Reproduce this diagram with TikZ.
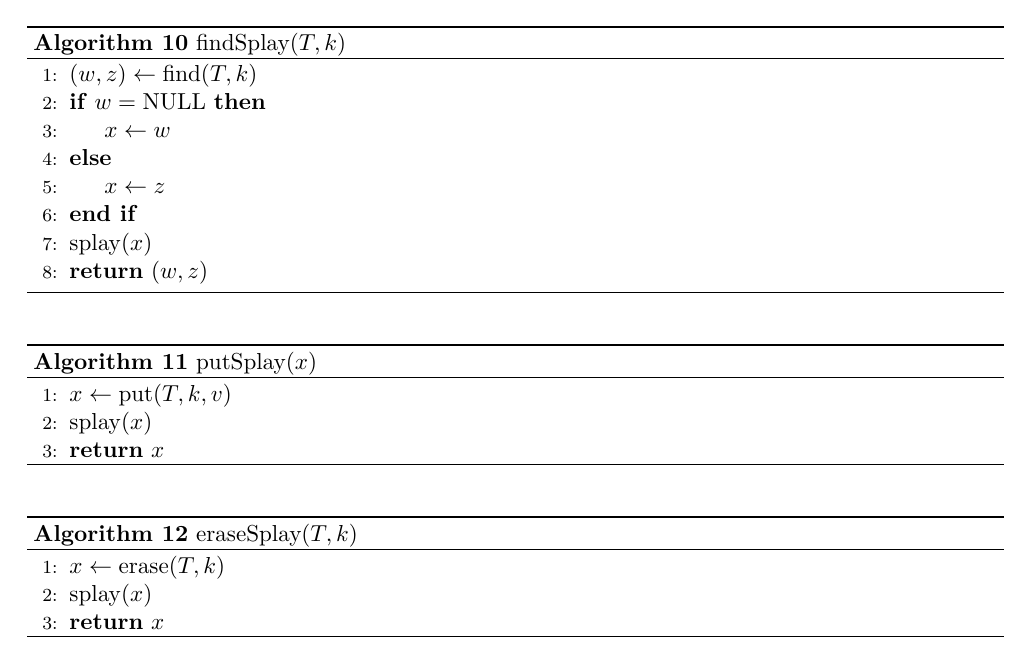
\documentclass[tikz,border=0pt]{standalone}
\usepackage{amsmath}
\begin{document}
\begin{tikzpicture}[x=0.42pt,y=-0.42pt,
  num/.style={anchor=base east,font=\footnotesize,inner sep=0pt,scale=0.97},
  code/.style={anchor=base west,inner sep=0pt,scale=0.97},
  ttl/.style={anchor=base west,inner sep=0pt,scale=0.97},
  thick rule/.style={line width=0.8pt},
  thin rule/.style={line width=0.4pt}]
\useasboundingbox (0,0) rectangle (1024,667);
% Algorithm 10
\draw[thick rule] (27,27) -- (1004,27);
\node[ttl] (t10) at (33,51) {\textbf{Algorithm 10} findSplay$(T,k)$};
\draw[thin rule] (27,58) -- (1004,58);
\node[num] (n1) at (58,82) {1:}; \node[code] (c1) at (69,82) {$(w,z)\leftarrow \mathrm{find}(T,k)$};
\node[num] (n2) at (58,110) {2:}; \node[code] (c2) at (69,110) {\textbf{if} $w=\mathrm{NULL}$ \textbf{then}};
\node[num] (n3) at (58,138) {3:}; \node[code] (c3) at (104,138) {$x\leftarrow w$};
\node[num] (n4) at (58,166) {4:}; \node[code] (c4) at (69,166) {\textbf{else}};
\node[num] (n5) at (58,194) {5:}; \node[code] (c5) at (104,194) {$x\leftarrow z$};
\node[num] (n6) at (58,222) {6:}; \node[code] (c6) at (69,222) {\textbf{end if}};
\node[num] (n7) at (58,250) {7:}; \node[code] (c7) at (69,250) {$\mathrm{splay}(x)$};
\node[num] (n8) at (58,278) {8:}; \node[code] (c8) at (69,278) {\textbf{return} $(w,z)$};
\draw[thin rule] (27,292) -- (1004,292);
% Algorithm 11
\draw[thick rule] (27,345) -- (1004,345);
\node[ttl] (t11) at (33,369) {\textbf{Algorithm 11} putSplay$(x)$};
\draw[thin rule] (27,377) -- (1004,377);
\node[num] (m1) at (58,401) {1:}; \node[code] (d1) at (69,401) {$x\leftarrow \mathrm{put}(T,k,v)$};
\node[num] (m2) at (58,429) {2:}; \node[code] (d2) at (69,429) {$\mathrm{splay}(x)$};
\node[num] (m3) at (58,457) {3:}; \node[code] (d3) at (69,457) {\textbf{return} $x$};
\draw[thin rule] (27,464) -- (1004,464);
% Algorithm 12
\draw[thick rule] (27,517) -- (1004,517);
\node[ttl] (t12) at (33,541) {\textbf{Algorithm 12} eraseSplay$(T,k)$};
\draw[thin rule] (27,549) -- (1004,549);
\node[num] (p1) at (58,573) {1:}; \node[code] (e1) at (69,573) {$x\leftarrow \mathrm{erase}(T,k)$};
\node[num] (p2) at (58,601) {2:}; \node[code] (e2) at (69,601) {$\mathrm{splay}(x)$};
\node[num] (p3) at (58,629) {3:}; \node[code] (e3) at (69,629) {\textbf{return} $x$};
\draw[thin rule] (27,636) -- (1004,636);
\end{tikzpicture}
\end{document}
